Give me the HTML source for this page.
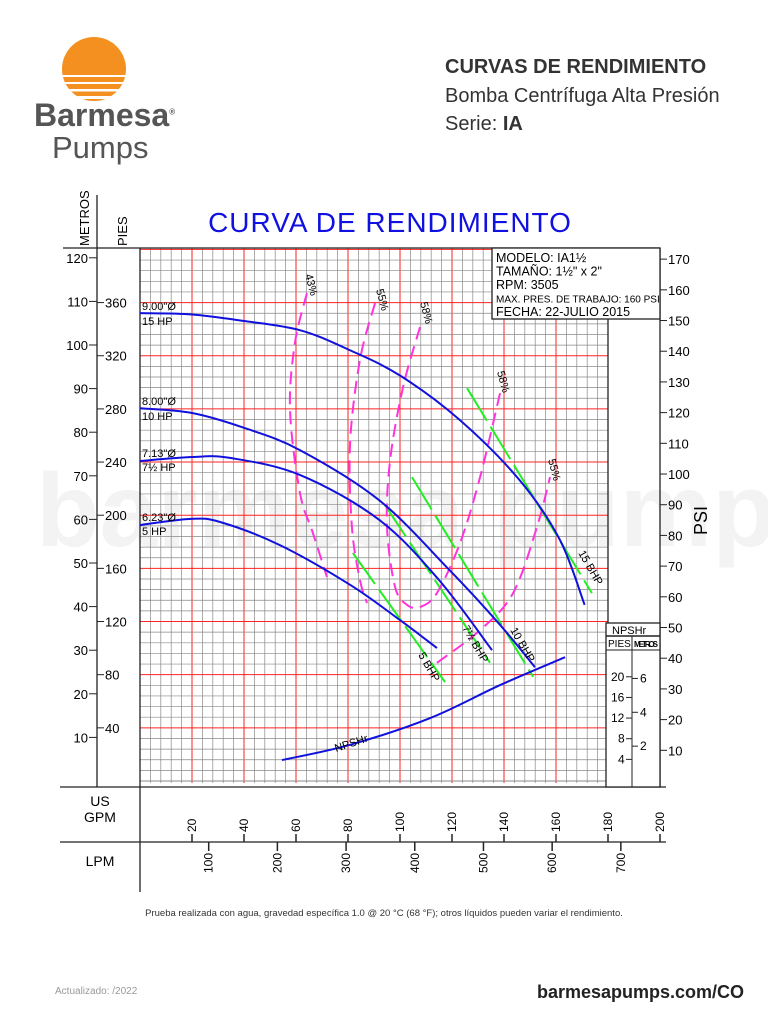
<!DOCTYPE html>
<html><head><meta charset="utf-8">
<style>
body{margin:0;width:768px;height:1024px;background:#fff;position:relative;overflow:hidden;font-family:"Liberation Sans",sans-serif}
.t{position:absolute;white-space:nowrap}
</style></head>
<body>
<div>
<svg class="t" style="left:60px;top:30px" width="120" height="140">
<defs><clipPath id="c"><circle cx="34" cy="39" r="32"/></clipPath></defs>
<g clip-path="url(#c)"><rect x="0" y="0" width="70" height="80" fill="#f39020"/>
<rect x="0" y="45" width="70" height="2" fill="#fff"/><rect x="0" y="52" width="70" height="2" fill="#fff"/><rect x="0" y="59" width="70" height="2.5" fill="#fff"/><rect x="0" y="66" width="70" height="3" fill="#fff"/></g>
</svg>
<div class="t" style="left:34px;top:97px;font-size:32px;font-weight:bold;color:#555">Barmesa<sup style="font-size:8px">®</sup></div>
<div class="t" style="left:52px;top:130px;font-size:31px;color:#555">Pumps</div>
</div>
<div class="t" style="left:445px;top:56px;font-size:20px;font-weight:bold;color:#333">CURVAS DE RENDIMIENTO</div>
<div class="t" style="left:445px;top:85px;font-size:20px;color:#333">Bomba Centrífuga Alta Presión</div>
<div class="t" style="left:445px;top:113px;font-size:20px;color:#333">Serie: <b>IA</b></div>

<svg class="t" style="left:0;top:0" width="768" height="1024" id="ch" font-family="Liberation Sans, sans-serif"></svg>

<div class="t" style="left:0;width:768px;text-align:center;top:908px;font-size:9.5px;color:#333">Prueba realizada con agua, gravedad específica 1.0 @ 20 °C (68 °F); otros líquidos pueden variar el rendimiento.</div>
<div class="t" style="left:55px;top:986px;font-size:10px;color:#999">Actualizado: /2022</div>
<div class="t" style="left:537px;top:982px;font-size:18px;font-weight:bold;color:#222">barmesapumps.com/CO</div>

<script>
const gpmTicks=[20,40,60,80,100,120,140,160,180,200];
const lpmTicks=[100,200,300,400,500,600,700];
const meterTicks=[10,20,30,40,50,60,70,80,90,100,110,120];
const feetTicks=[40,80,120,160,200,240,280,320,360];
const psiTicks=[10,20,30,40,50,60,70,80,90,100,110,120,130,140,150,160,170];
const curve900=[[0,107.3],[20,107],[40,105.5],[61.5,103.4],[80,99],[100,93],[123,82.8],[146,69],[161.5,55.3],[171,40.4]];
const curve800=[[0,85.5],[20,84.4],[40,81],[61.5,75.9],[92,64.4],[119,48.4],[138.5,35.8],[151.9,26.1]];
const curve713=[[0,73.4],[20,74.3],[34.6,74.1],[61.5,70.2],[92,59.9],[115,46.1],[135.4,30]];
const curve623=[[0,58.7],[19,60.1],[30.8,59.4],[53.8,54.1],[80.8,45],[100,36.9],[114.2,30.5]];
const npshr=[[54.6,4.8],[80.8,8.3],[111.5,14.4],[138.5,22],[163.5,28.4]];
const eff43=[[64.2,111.9],[59.6,100.5],[57.7,85.1],[61.5,66.1],[66.5,56.9],[71.9,46.8]];
const eff55L=[[90.4,109.6],[84.6,96.6],[80.8,77.5],[81.5,58.3],[84.6,46.1],[87.3,40.8]];
const eff58=[[107.7,104.1],[101.2,90.4],[96.2,73.6],[95,58.3],[98.1,44.5],[102.7,40.4],[107.7,39.9],[114.2,43.1],[123.1,54.6],[130.8,69.7],[138.5,89]];
const eff55R=[[114.2,27.1],[130.8,34.6],[143.5,43.1],[152.7,58.3],[157.7,69.7]];
const bhp15=[[125.8,90.1],[173.8,43.1]];
const bhp10=[[104.6,69.7],[151.2,23.9]];
const bhp75=[[94.2,63.3],[134.6,27.1]];
const bhp5=[[81.9,52.3],[117.3,22.7]];
const npshFt=[4,8,12,16,20];
const npshM=[2,4,6];

const NS='http://www.w3.org/2000/svg';
const svg=document.getElementById('ch');
const X=g=>140+g*2.6, Y=m=>781-m*4.36, YF=f=>Y(f*0.3048), YP=p=>YF(p*2.31);
function el(t,a,txt){const e=document.createElementNS(NS,t);for(const k in a)e.setAttribute(k,a[k]);if(txt!==undefined)e.textContent=txt;svg.appendChild(e);return e;}
let w=el('text',{x:36,y:546,'font-size':104,'font-weight':'bold',fill:'#f3f3f3'},'barmesa pumps');


const gTop=248,gBot=783,gRight=608;
for(let g=0;g<=180;g+=4){let l=el('line',{x1:X(g),x2:X(g),y1:gTop,y2:gBot,stroke:g%20==0&&g>0?'#f22':'#888','stroke-width':g%20==0?1:0.7});

}
for(let f=0;f<=400;f+=8){let y=YF(f);if(y<gTop)break;let l=el('line',{x1:140,x2:gRight,y1:y,y2:y,stroke:f%40==0&&f>0?'#f22':'#888','stroke-width':f%40==0?1:0.7});

}
[[140,gTop,140,892],[97,195,97,787],[63,gTop,140,gTop],[660,gTop,660,787],[60,787,666,787],[60,842,666,842],[gRight,gTop,gRight,787],[140,gTop,660,gTop]].forEach(a=>{let l=el('line',{x1:a[0],y1:a[1],x2:a[2],y2:a[3],stroke:'#222','stroke-width':1.3});

});
let t=el('text',{x:0,y:0,'font-size':13,transform:'translate(89,246) rotate(-90)'},'METROS');
t=el('text',{x:0,y:0,'font-size':13,transform:'translate(127,246) rotate(-90)'},'PIES');
meterTicks.forEach(m=>{let e=el('text',{x:88,y:Y(m)+5,'font-size':13,'text-anchor':'end'},m);el('line',{x1:89,x2:97,y1:Y(m),y2:Y(m),stroke:'#222'});});
feetTicks.forEach(f=>{let e=el('text',{x:105,y:YF(f)+5,'font-size':13},f);el('line',{x1:97,x2:104,y1:YF(f),y2:YF(f),stroke:'#222'});});
psiTicks.forEach(p=>{let e=el('text',{x:668,y:YP(p)+5,'font-size':13},p);el('line',{x1:660,x2:667,y1:YP(p),y2:YP(p),stroke:'#222'});});
t=el('text',{x:0,y:0,'font-size':18,transform:'translate(707,535) rotate(-90)'},'PSI');
t=el('text',{x:100,y:806,'font-size':14,'text-anchor':'middle'},'US');
el('text',{x:100,y:822,'font-size':14,'text-anchor':'middle'},'GPM');
t=el('text',{x:100,y:866,'font-size':14,'text-anchor':'middle'},'LPM');
gpmTicks.forEach(g=>{el('line',{x1:X(g),x2:X(g),y1:834,y2:842,stroke:'#222','stroke-width':1.5});let e=el('text',{x:0,y:0,'font-size':12,transform:`translate(${X(g)+4},832) rotate(-90)`},g);});
lpmTicks.forEach(l=>{let x=X(l/3.785);el('line',{x1:x,x2:x,y1:842,y2:851,stroke:'#222','stroke-width':1.5});let e=el('text',{x:0,y:0,'font-size':12,'text-anchor':'end',transform:`translate(${x+4},853) rotate(-90)`},l);});
t=el('text',{x:390,y:232,'font-size':28,fill:'#1010e0','text-anchor':'middle','letter-spacing':1},'CURVA  DE  RENDIMIENTO');
el('rect',{x:492,y:248,width:168,height:71,fill:'#fff',stroke:'#222','stroke-width':1.3});
['MODELO: IA1½','TAMAÑO: 1½" x 2"','RPM: 3505','MAX. PRES. DE TRABAJO: 160 PSI','FECHA: 22-JULIO 2015'].forEach((s,i)=>{let e=el('text',{x:496,y:262+i*13.5,'font-size':i==3?10:12.5},s);});
const path=a=>a.map((p,i)=>(i?'L':'M')+X(p[0]).toFixed(1)+','+Y(p[1]).toFixed(1)).join('');
function smooth(a){const p=a.map(q=>[X(q[0]),Y(q[1])]);let d='M'+p[0];for(let i=0;i<p.length-1;i++){const p0=p[i-1]||p[i],p1=p[i],p2=p[i+1],p3=p[i+2]||p2;d+=`C${p1[0]+(p2[0]-p0[0])/6},${p1[1]+(p2[1]-p0[1])/6} ${p2[0]-(p3[0]-p1[0])/6},${p2[1]-(p3[1]-p1[1])/6} ${p2[0]},${p2[1]}`;}return d;}
[[bhp15,'bhp-15'],[bhp10,'bhp-10'],[bhp75,'bhp-7-5'],[bhp5,'bhp-5']].forEach(([a,n])=>{let e=el('path',{d:path(a),stroke:'#2e2',fill:'none','stroke-width':2,'stroke-dasharray':'38 7'});});
[[eff43,'eff-43'],[eff55L,'eff-55-left'],[eff58,'eff-58'],[eff55R,'eff-55-right']].forEach(([a,n])=>{let e=el('path',{d:smooth(a),stroke:'#f3d',fill:'none','stroke-width':2,'stroke-dasharray':'13 7'});});
[[curve900,'curve-9-00'],[curve800,'curve-8-00'],[curve713,'curve-7-13'],[curve623,'curve-6-23'],[npshr,'npshr-curve']].forEach(([a,n])=>{let e=el('path',{d:smooth(a),stroke:'#11d',fill:'none','stroke-width':2});});
const lab=(x,y,s,r,n,fs)=>{let e=el('text',{x:0,y:0,'font-size':fs||11,transform:`translate(${x},${y}) rotate(${r||0})`},s);};
lab(142,310,'9.00"Ø',0,'label-9');lab(142,325,'15 HP',0,'label-15hp');
lab(142,405,'8.00"Ø',0,'label-8');lab(142,420,'10 HP',0,'label-10hp');
lab(142,457,'7.13"Ø',0,'label-7');lab(142,471,'7½ HP',0,'label-75hp');
lab(142,521,'6.23"Ø',0,'label-6');lab(142,535,'5 HP',0,'label-5hp');
lab(305,275,'43%',75,'label-43');lab(376,290,'55%',75,'label-55a');lab(420,303,'58%',75,'label-58a');
lab(497,372,'58%',75,'label-58b');lab(548,460,'55%',75,'label-55b');
lab(578,553,'15 BHP',60,'label-15bhp');lab(510,630,'10 BHP',60,'label-10bhp');lab(462,628,'7½ BHP',60,'label-75bhp');lab(418,655,'5 BHP',60,'label-5bhp');
lab(336,752,'NPSHr',-18,'label-npshr');
el('rect',{x:606,y:623,width:54,height:164,fill:'#fff',stroke:'#222','stroke-width':1.3});
el('line',{x1:606,x2:660,y1:636,y2:636,stroke:'#222','stroke-width':1.5});
el('line',{x1:606,x2:660,y1:650,y2:650,stroke:'#222'});
el('line',{x1:632,x2:632,y1:636,y2:787,stroke:'#222'});
lab(612,634,'NPSHr',0,'npsh-box-title',11);lab(608,647,'PIES',0,'npsh-pies',10);
t=el('text',{x:634,y:647,'font-size':8,'font-weight':'bold',textLength:24},'METROS');
const NF=f=>780-f*5.16, NM=m=>NF(m/0.3048);
npshFt.forEach(f=>{el('line',{x1:626,x2:632,y1:NF(f),y2:NF(f),stroke:'#222'});lab(625-(f>9?14:7),NF(f)+4,f,0,'npsh-ft-tick',12);});
npshM.forEach(m=>{el('line',{x1:632,x2:638,y1:NM(m),y2:NM(m),stroke:'#222'});lab(640,NM(m)+4,m,0,'npsh-m-tick',12);});
</script>
</body></html>
